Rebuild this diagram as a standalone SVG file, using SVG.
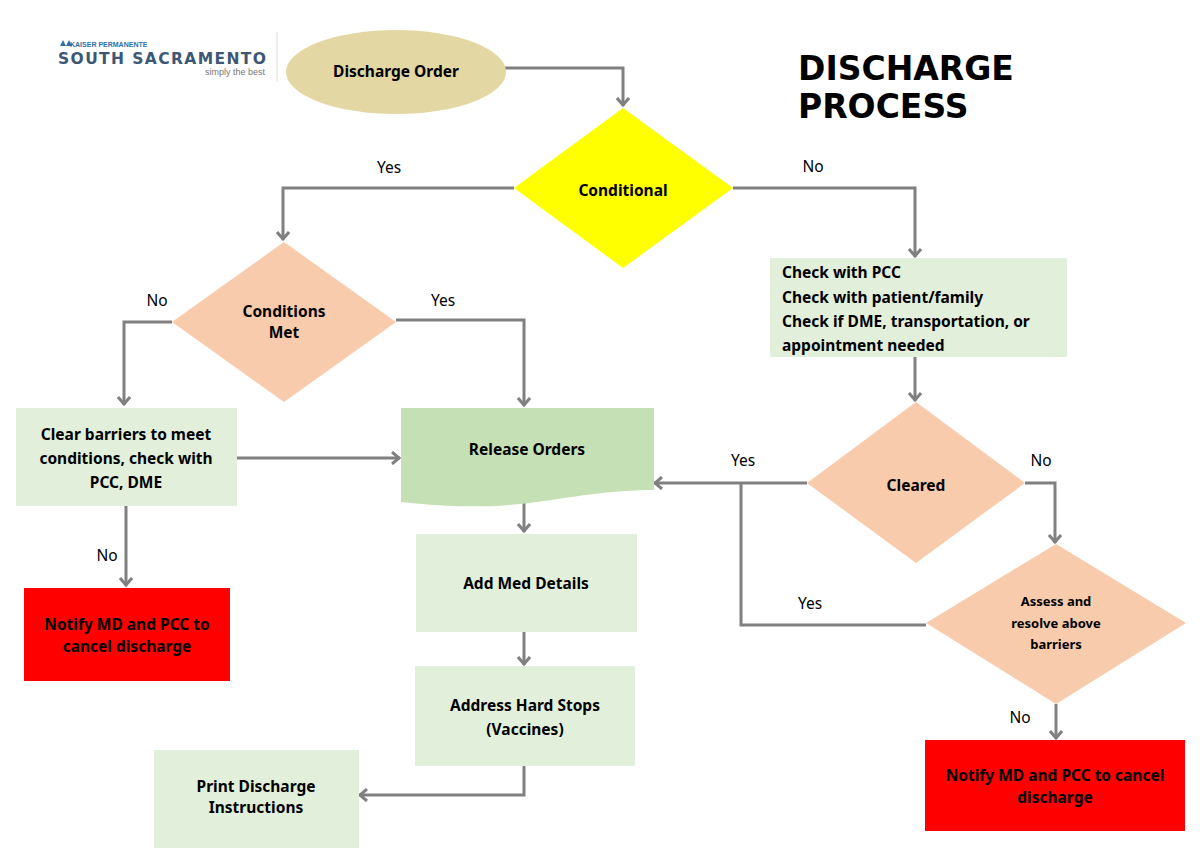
<svg xmlns="http://www.w3.org/2000/svg" width="1200" height="848" viewBox="0 0 1200 848">
<defs>
<marker id="a" viewBox="0 0 14 14" refX="12" refY="7" markerWidth="14" markerHeight="14" orient="auto" markerUnits="userSpaceOnUse"><path d="M4,1 L11,7 L4,13" fill="none" stroke="#808080" stroke-width="3"/></marker>
<style>
.t{font-family:"Noto Sans","DejaVu Sans",sans-serif;font-weight:bold;font-size:15.5px;fill:#000;text-anchor:middle}
.l{font-family:"Noto Sans","DejaVu Sans",sans-serif;font-size:15.5px;fill:#000;text-anchor:middle}
.c{fill:none;stroke:#808080;stroke-width:3}
.ar{marker-end:url(#a)}
.g{fill:#e2efda}
.p{fill:#f8cbad}
.r{fill:#ff0000}
</style>
</defs>
<rect width="1200" height="848" fill="#fff"/>
<g id="logo">
<text x="70" y="47" font-family="Liberation Sans,sans-serif" font-size="7" fill="#2f6fa8" font-weight="bold">KAISER PERMANENTE</text>
<path d="M60,46 l3,-6 l3,6 l3,-6 l3,6z" fill="#2f6fa8"/>
<text x="58" y="64" font-family="DejaVu Sans,sans-serif" font-size="15.5" font-weight="bold" fill="#3d5775" textLength="208">SOUTH SACRAMENTO</text>
<text x="265" y="75" font-family="Liberation Sans,sans-serif" font-size="9" fill="#777" text-anchor="end">simply the best</text>
<line x1="277" y1="32" x2="277" y2="82" stroke="#ddd"/>
</g>
<g id="title"><text font-family="DejaVu Sans,sans-serif" font-weight="bold" font-size="33" fill="#000"><tspan x="798" y="80">DISCHARGE</tspan><tspan x="798" y="118">PROCESS</tspan></text></g>
<g id="connectors">
<path class="c ar" d="M505,68 H623 V106"/>
<path class="c ar" d="M514,188 H283 V240"/>
<path class="c ar" d="M733,188 H915 V257"/>
<path class="c ar" d="M172,322 H124 V405"/>
<path class="c ar" d="M396,320 H524 V406"/>
<path class="c ar" d="M237,458 H400"/>
<path class="c ar" d="M524,500 V532"/>
<path class="c ar" d="M524,632 V665"/>
<path class="c ar" d="M524,766 V795 H359"/>
<path class="c" d="M258,840 V848"/>
<path class="c ar" d="M126,506 V586"/>
<path class="c ar" d="M915,357 V401"/>
<path class="c ar" d="M807,483 H654"/>
<path class="c ar" d="M1025,483 H1055 V543"/>
<path class="c" d="M926,625 H741 V483"/>
<path class="c ar" d="M1056,704 V739"/>
<text class="l" x="389" y="173">Yes</text>
<text class="l" x="813" y="172">No</text>
<text class="l" x="157" y="306">No</text>
<text class="l" x="443" y="306">Yes</text>
<text class="l" x="107" y="561">No</text>
<text class="l" x="743" y="466">Yes</text>
<text class="l" x="1041" y="466">No</text>
<text class="l" x="810" y="609">Yes</text>
<text class="l" x="1020" y="723">No</text>
</g>
<g id="discharge-order"><ellipse cx="396" cy="72" rx="110" ry="42" fill="#e3d7a4"/><text class="t" x="396" y="77">Discharge Order</text></g>
<g id="conditional"><polygon points="623,108 733,188 623,268 514,188" fill="#ffff00"/><text class="t" x="623" y="196">Conditional</text></g>
<g id="conditions-met"><polygon points="284,242 396,322 284,402 172,322" class="p"/><text class="t" x="284" y="317">Conditions</text><text class="t" x="284" y="338">Met</text></g>
<g id="clear-barriers"><rect x="16" y="408" width="221" height="98" class="g"/><text class="t" x="126" y="440">Clear barriers to meet</text><text class="t" x="126" y="464">conditions, check with</text><text class="t" x="126" y="488">PCC, DME</text></g>
<g id="release-orders"><path d="M401,408 H654 V490 C600,490 560,500 520,504 C470,509 430,505 401,502 Z" fill="#c5e0b4"/><text class="t" x="527" y="455">Release Orders</text></g>
<g id="add-med"><rect x="416" y="534" width="221" height="98" class="g"/><text class="t" x="526" y="589">Add Med Details</text></g>
<g id="hard-stops"><rect x="415" y="666" width="220" height="100" class="g"/><text class="t" x="525" y="711">Address Hard Stops</text><text class="t" x="525" y="735">(Vaccines)</text></g>
<g id="print"><rect x="154" y="750" width="205" height="98" class="g"/><text class="t" x="256" y="792">Print Discharge</text><text class="t" x="256" y="813">Instructions</text></g>
<g id="notify-left"><rect x="24" y="588" width="206" height="93" class="r"/><text class="t" x="127" y="630" fill="#300">Notify MD and PCC to</text><text class="t" x="127" y="652">cancel discharge</text></g>
<g id="check"><rect x="770" y="258" width="297" height="99" class="g"/><text class="t" style="text-anchor:start"><tspan x="782" y="278">Check with PCC</tspan><tspan x="782" y="303">Check with patient/family</tspan><tspan x="782" y="327">Check if DME, transportation, or</tspan><tspan x="782" y="351">appointment needed</tspan></text></g>
<g id="cleared"><polygon points="916,402 1025,483 916,563 807,483" class="p"/><text class="t" x="916" y="491">Cleared</text></g>
<g id="assess"><polygon points="1056,544 1186,623 1056,704 926,623" class="p"/><text class="t" x="1056" y="606" style="font-size:13px">Assess and</text><text class="t" x="1056" y="628" style="font-size:13px">resolve above</text><text class="t" x="1056" y="649" style="font-size:13px">barriers</text></g>
<g id="notify-right"><rect x="925" y="740" width="260" height="91" class="r"/><text class="t" x="1055" y="781">Notify MD and PCC to cancel</text><text class="t" x="1055" y="803">discharge</text></g>
</svg>
